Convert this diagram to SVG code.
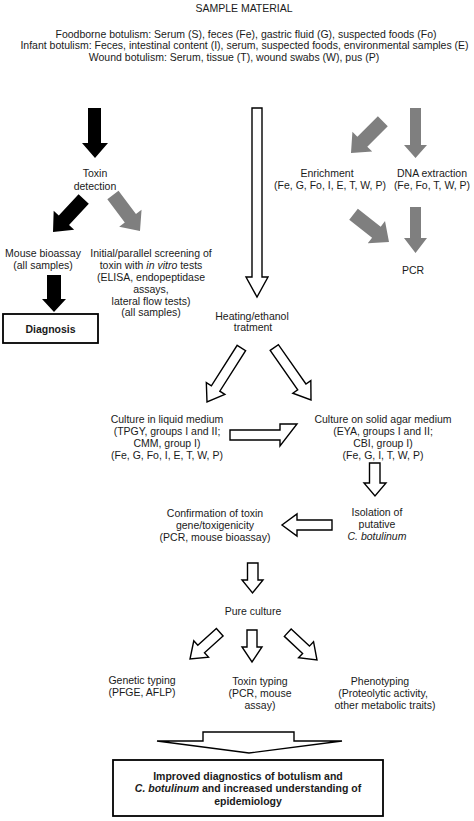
<svg xmlns="http://www.w3.org/2000/svg" width="474" height="821" viewBox="0 0 474 821">
<style>
text{font-family:"Liberation Sans",Arial,sans-serif;font-size:10.5px;fill:#1a1a1a;text-anchor:middle}
.b{font-weight:bold}
.i{font-style:italic}
.blk{fill:#000}
.gry{fill:#7f7f7f}
.wht{fill:#fff;stroke:#000;stroke-width:1.4;stroke-linejoin:miter}
.box{fill:#fff;stroke:#000;stroke-width:1.8}
</style>
<defs>
<path id="sdiag" d="M-7,-45H7V-16H14L0,0L-14,-16H-7Z"/>
<path id="odiag" d="M-5,-64H5V-16H11L0,0L-11,-16H-5Z"/>
<path id="odiag2" d="M-5,-40H5V-15H11L0,0L-11,-15H-5Z"/>
</defs>
<rect width="474" height="821" fill="#fff"/>

<g id="sample">
<text x="244" y="11.5">SAMPLE MATERIAL</text>
<text x="246" y="37.5">Foodborne botulism: Serum (S), feces (Fe), gastric fluid (G), suspected foods (Fo)</text>
<text x="244.5" y="49">Infant botulism: Feces, intestinal content (I), serum, suspected foods, environmental samples (E)</text>
<text x="234" y="61">Wound botulism: Serum, tissue (T), wound swabs (W), pus (P)</text>
</g>

<g id="connectors">
<path class="blk" d="M88,108H101V143H108L95,158L82,143H88Z"/>
<use href="#sdiag" class="blk" transform="translate(53,232) rotate(43)"/>
<use href="#sdiag" class="gry" transform="translate(140,231) rotate(-37)" />
<path class="blk" d="M47,275H61V299H66L54,312L42,299H47Z"/>
<path class="wht" d="M252,108H262V277H268L257,297L246,277H252Z"/>
<use href="#sdiag" class="gry" transform="translate(351,153) rotate(45)"/>
<path class="gry" d="M410,108H421V145H427L415.5,158L404,145H410Z"/>
<use href="#sdiag" class="gry" transform="translate(389,242) rotate(-52)"/>
<path class="gry" d="M410,207H421V238H427L415.5,253L404,238H410Z"/>
<use href="#odiag" class="wht" transform="translate(207,402) rotate(32.5)"/>
<use href="#odiag" class="wht" transform="translate(311,400) rotate(-35)"/>
<path class="wht" d="M230,430H280V424H297L280,446V440H230Z"/>
<path class="wht" d="M369.5,463H380V483H386L375,496L364,483H369.5Z"/>
<path class="wht" d="M332,520V530H297V536L282,525L297,514V520Z"/>
<path class="wht" d="M247.5,563H258V580H263L252.5,593L242,580H247.5Z"/>
<use href="#odiag2" class="wht" transform="translate(190,659) rotate(48)"/>
<path class="wht" d="M247,630H257V647H262L252,662L242,647H247Z"/>
<use href="#odiag2" class="wht" transform="translate(317,660) rotate(-47)"/>
<path class="wht" d="M203,732H294V741H342L249,753L157,741H203Z"/>
</g>

<g id="toxin-detection">
<text x="95" y="177">Toxin</text>
<text x="95" y="189.5">detection</text>
</g>

<g id="mouse-bioassay">
<text x="43" y="257">Mouse bioassay</text>
<text x="43" y="269">(all samples)</text>
</g>

<g id="screening">
<text x="151" y="257">Initial/parallel screening of</text>
<text x="151" y="269">toxin with <tspan class="i">in vitro</tspan> tests</text>
<text x="151" y="281">(ELISA, endopeptidase</text>
<text x="151" y="293">assays,</text>
<text x="151" y="304.5">lateral flow tests)</text>
<text x="151" y="316">(all samples)</text>
</g>

<g id="diagnosis">
<rect class="box" x="3" y="314" width="95" height="29"/>
<text class="b" x="50.5" y="332.5">Diagnosis</text>
</g>

<g id="enrichment">
<text x="327" y="177">Enrichment</text>
<text x="330" y="188.5">(Fe, G, Fo, I, E, T, W, P)</text>
</g>

<g id="dna-extraction">
<text x="432" y="177">DNA extraction</text>
<text x="432" y="188.5">(Fe, Fo, T, W, P)</text>
</g>

<g id="pcr">
<text x="413" y="274">PCR</text>
</g>

<g id="heating">
<text x="252" y="320">Heating/ethanol</text>
<text x="253" y="331">tratment</text>
</g>

<g id="liquid-culture">
<text x="167" y="423">Culture in liquid medium</text>
<text x="167" y="435">(TPGY, groups I and II;</text>
<text x="167" y="447">CMM, group I)</text>
<text x="167" y="459">(Fe, G, Fo, I, E, T, W, P)</text>
</g>

<g id="solid-culture">
<text x="383" y="423">Culture on solid agar medium</text>
<text x="383" y="435">(EYA, groups I and II;</text>
<text x="383" y="447">CBI, group I)</text>
<text x="383" y="459">(Fe, G, I, T, W, P)</text>
</g>

<g id="isolation">
<text x="377" y="516">Isolation of</text>
<text x="377" y="528">putative</text>
<text class="i" x="377" y="540">C. botulinum</text>
</g>

<g id="confirmation">
<text x="215" y="517">Confirmation of toxin</text>
<text x="215" y="529">gene/toxigenicity</text>
<text x="215" y="541">(PCR, mouse bioassay)</text>
</g>

<g id="pure-culture">
<text x="253" y="615">Pure culture</text>
</g>

<g id="genetic-typing">
<text x="142" y="683.5">Genetic typing</text>
<text x="142" y="695.5">(PFGE, AFLP)</text>
</g>

<g id="toxin-typing">
<text x="260" y="684.5">Toxin typing</text>
<text x="260" y="696.5">(PCR, mouse</text>
<text x="260" y="708.5">assay)</text>
</g>

<g id="phenotyping">
<text x="380" y="684.5">Phenotyping</text>
<text x="383" y="696.5">(Proteolytic activity,</text>
<text x="385" y="708.5">other metabolic traits)</text>
</g>

<g id="outcome">
<rect class="box" x="113" y="760" width="270" height="56"/>
<text class="b" x="248" y="779.5">Improved diagnostics of botulism and</text>
<text class="b" x="248" y="792"><tspan class="i">C. botulinum</tspan> and increased understanding of</text>
<text class="b" x="248" y="804.5">epidemiology</text>
</g>
</svg>
